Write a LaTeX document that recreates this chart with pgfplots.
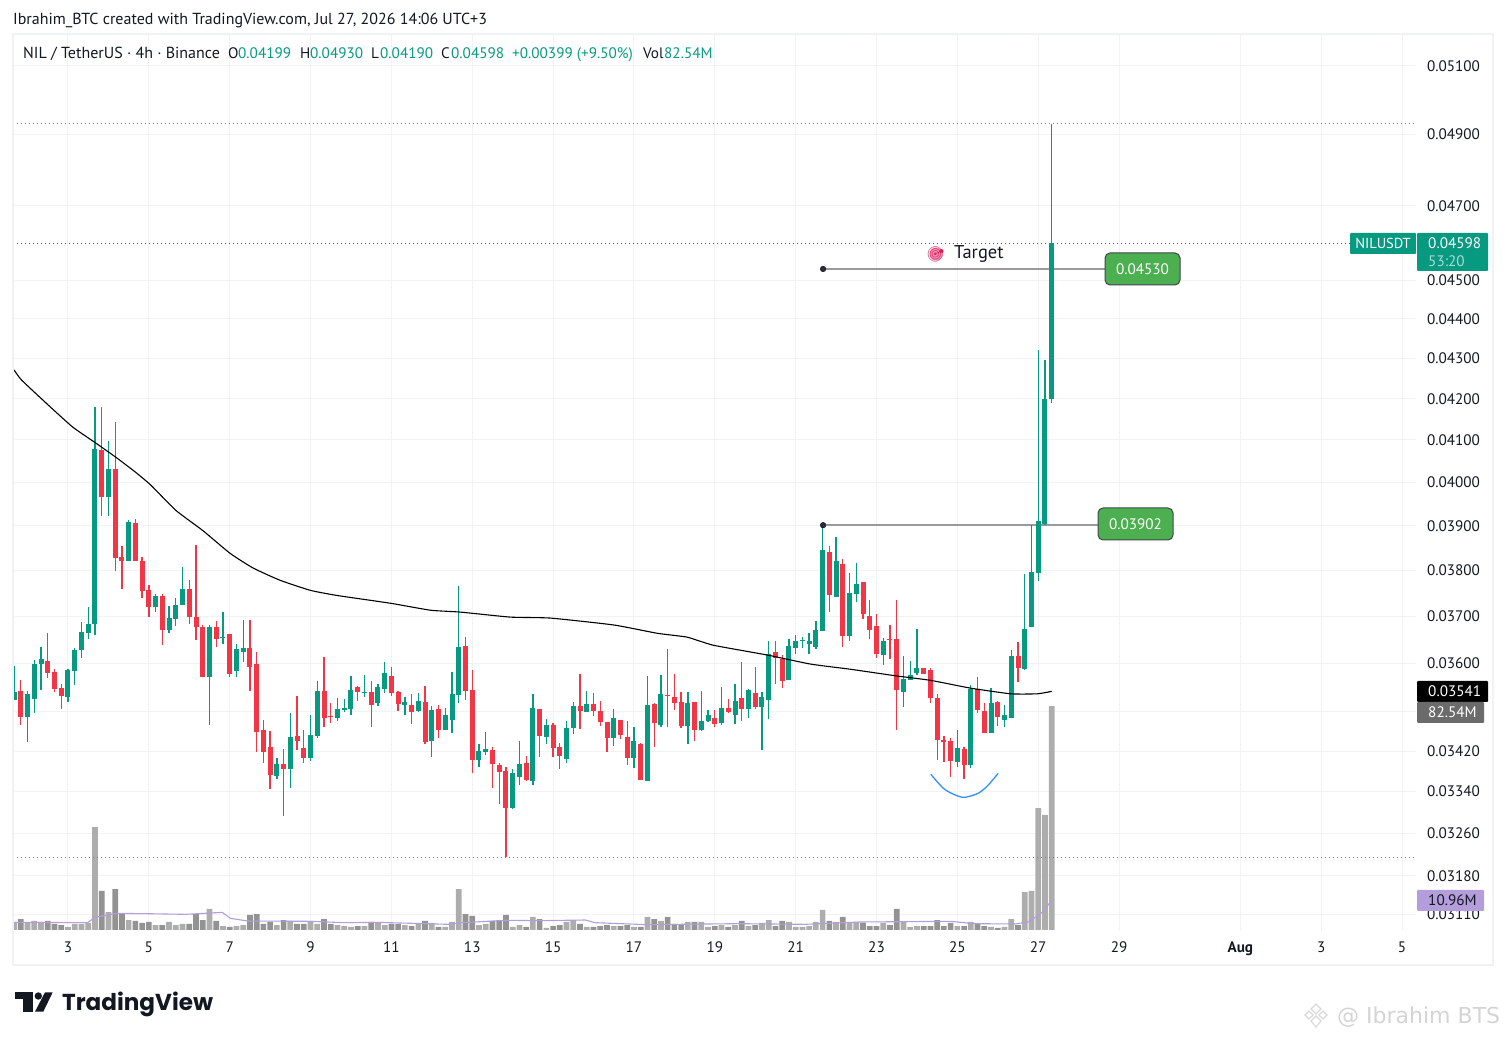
\documentclass[border=0pt]{standalone}
\usepackage{fontspec}
\usepackage{pgfplots}
\usepackage{pgfplotstable}
\pgfplotsset{compat=1.18}
\setmainfont{PT Sans}
\newfontfamily\emojifont{Noto Emoji}
\newfontfamily\tvfont{Poppins}
\newfontfamily\wmfont{DejaVu Sans}
\definecolor{tvgreen}{HTML}{089981}
\definecolor{tvred}{HTML}{F23645}
\definecolor{tvgrid}{HTML}{F1F2F4}
\definecolor{tvtext}{HTML}{131722}
\definecolor{tvdots}{HTML}{787B86}
\definecolor{volup}{HTML}{ADADAD}
\definecolor{voldown}{HTML}{939393}
\definecolor{volma}{HTML}{B39DDB}
\definecolor{lvl}{HTML}{9A9A9A}
\definecolor{lblgreen}{HTML}{4CAF50}
\pgfplotstableread{
i o h l c v
0 .03523 .03593 .03523 .03540 2.95
2 .03489 .03542 .03438 .03536 2.58
3 .03525 .03606 .03497 .03598 3.32
4 .03598 .03634 .03544 .03608 2.95
8 .03530 .03588 .03519 .03585 1.11
9 .03583 .03631 .03554 .03627 2.21
10 .03627 .03687 .03610 .03666 2.21
11 .03664 .03720 .03651 .03683 2.58
12 .03683 .04180 .03659 .04078 37.9
14 .03966 .04098 .03922 .04031 6.63
17 .03820 .03913 .03820 .03908 3.68
21 .03720 .03748 .03709 .03743 1.84
23 .03670 .03722 .03664 .03696 2.95
24 .03694 .03739 .03679 .03724 1.84
25 .03724 .03807 .03724 .03758 2.21
29 .03572 .03681 .03472 .03676 7.74
31 .03653 .03709 .03640 .03655 1.47
33 .03583 .03640 .03570 .03629 1.47
34 .03623 .03692 .03602 .03631 1.84
39 .03370 .03407 .03364 .03395 1.84
41 .03384 .03496 .03347 .03448 3.32
44 .03406 .03492 .03400 .03452 3.32
45 .03451 .03562 .03447 .03542 2.21
48 .03486 .03528 .03480 .03505 1.84
49 .03503 .03526 .03499 .03507 1.47
50 .03505 .03573 .03492 .03544 1.11
52 .03538 .03575 .03530 .03540 1.47
54 .03517 .03556 .03511 .03550 2.58
55 .03546 .03602 .03538 .03579 1.84
58 .03513 .03530 .03492 .03519 1.84
60 .03501 .03538 .03499 .03521 2.21
62 .03440 .03511 .03408 .03503 2.58
64 .03462 .03507 .03462 .03492 1.11
65 .03482 .03581 .03456 .03536 2.95
66 .03534 .03765 .03517 .03634 15.1
69 .03402 .03434 .03388 .03420 1.84
70 .03418 .03458 .03412 .03424 2.21
74 .03308 .03385 .03306 .03376 1.11
75 .03368 .03440 .03353 .03394 1.84
77 .03361 .03536 .03353 .03507 4.79
79 .03448 .03484 .03434 .03472 .74
82 .03404 .03480 .03396 .03466 2.95
83 .03466 .03519 .03454 .03511 3.68
85 .03499 .03542 .03499 .03515 1.11
89 .03446 .03505 .03430 .03487 1.47
92 .03406 .03468 .03387 .03440 1.11
94 .03361 .03573 .03361 .03513 4.79
96 .03472 .03575 .03468 .03536 3.32
100 .03470 .03540 .03434 .03517 2.95
102 .03462 .03542 .03460 .03480 2.95
103 .03480 .03503 .03478 .03493 1.11
105 .03476 .03550 .03472 .03507 1.84
107 .03493 .03556 .03474 .03521 1.84
109 .03505 .03546 .03487 .03544 1.47
111 .03509 .03540 .03422 .03529 2.58
112 .03523 .03646 .03484 .03619 3.68
115 .03565 .03651 .03565 .03636 2.95
116 .03632 .03659 .03619 .03646 1.11
117 .03646 .03655 .03632 .03649 1.11
118 .03640 .03664 .03619 .03646 1.47
119 .03634 .03689 .03630 .03670 2.95
120 .03668 .03904 .03668 .03845 7.37
122 .03741 .03875 .03741 .03821 2.95
124 .03657 .03794 .03647 .03750 2.58
125 .03748 .03816 .03731 .03770 2.95
129 .03617 .03653 .03596 .03647 2.58
132 .03540 .03615 .03509 .03567 2.95
133 .03564 .03604 .03564 .03575 1.11
134 .03580 .03672 .03575 .03590 1.47
140 .03398 .03462 .03389 .03426 1.47
142 .03392 .03554 .03386 .03546 2.95
145 .03456 .03548 .03456 .03517 1.11
147 .03483 .03513 .03469 .03493 1.11
148 .03487 .03628 .03487 .03615 4.05
150 .03588 .03792 .03586 .03672 14.0
151 .03676 .03902 .03676 .03796 14.4
152 .03794 .04320 .03776 .03911 44.9
153 .03905 .04297 .03902 .04199 42.4
154 .04199 .04930 .04190 .04598 82.54
}\upcandles
\pgfplotstableread{
i o h l c v
1 .03542 .03564 .03472 .03489 4.05
5 .03604 .03663 .03569 .03579 3.32
6 .03581 .03587 .03540 .03546 2.21
7 .03548 .03556 .03505 .03532 1.84
13 .04076 .04180 .03922 .03968 14.4
15 .04031 .04143 .03798 .03827 15.1
16 .03829 .03854 .03758 .03820 5.89
18 .03906 .03915 .03820 .03822 3.32
19 .03820 .03831 .03739 .03754 2.58
20 .03756 .03767 .03698 .03720 2.95
22 .03743 .03748 .03638 .03670 1.84
26 .03758 .03778 .03683 .03698 2.21
27 .03698 .03858 .03648 .03676 5.89
28 .03676 .03681 .03572 .03572 3.68
30 .03676 .03689 .03635 .03651 3.32
32 .03662 .03662 .03572 .03578 1.11
35 .03631 .03692 .03542 .03591 5.53
36 .03598 .03623 .03419 .03458 5.89
37 .03462 .03482 .03397 .03419 2.21
38 .03429 .03460 .03346 .03372 2.95
40 .03394 .03424 .03293 .03385 3.68
42 .03451 .03532 .03422 .03440 2.21
43 .03426 .03462 .03396 .03406 2.21
46 .03542 .03613 .03468 .03486 4.05
47 .03490 .03517 .03476 .03488 2.21
51 .03550 .03552 .03521 .03540 1.47
53 .03540 .03562 .03468 .03513 2.95
56 .03573 .03592 .03532 .03538 2.21
57 .03540 .03542 .03501 .03515 2.21
59 .03513 .03536 .03474 .03499 1.47
61 .03519 .03552 .03434 .03438 3.32
63 .03505 .03513 .03447 .03462 1.11
67 .03636 .03655 .03523 .03542 5.89
68 .03544 .03585 .03376 .03402 5.16
71 .03422 .03428 .03347 .03394 3.32
72 .03392 .03396 .03316 .03378 3.68
73 .03380 .03388 .03215 .03308 5.53
76 .03396 .03410 .03361 .03363 1.11
78 .03505 .03505 .03408 .03451 4.05
80 .03472 .03476 .03408 .03426 1.47
81 .03428 .03436 .03385 .03410 1.84
84 .03511 .03577 .03464 .03501 2.21
86 .03515 .03538 .03491 .03501 1.11
87 .03501 .03521 .03470 .03478 1.47
88 .03478 .03478 .03418 .03446 1.84
90 .03482 .03482 .03444 .03452 1.47
91 .03448 .03480 .03392 .03406 1.84
93 .03434 .03436 .03363 .03363 1.11
95 .03515 .03517 .03428 .03476 4.05
97 .03533 .03629 .03468 .03531 4.79
98 .03529 .03577 .03503 .03517 2.21
99 .03519 .03540 .03466 .03470 1.84
101 .03519 .03519 .03440 .03462 2.95
104 .03487 .03503 .03468 .03474 1.47
106 .03507 .03525 .03497 .03499 1.11
108 .03527 .03602 .03480 .03505 3.32
110 .03538 .03592 .03505 .03509 1.84
113 .03623 .03646 .03557 .03611 1.47
114 .03608 .03617 .03548 .03563 3.32
121 .03841 .03855 .03709 .03746 3.32
123 .03814 .03825 .03634 .03657 4.79
126 .03775 .03775 .03694 .03705 2.58
127 .03700 .03735 .03651 .03670 1.47
128 .03679 .03705 .03611 .03619 1.47
130 .03651 .03681 .03609 .03649 1.84
131 .03651 .03735 .03462 .03544 7.74
135 .03590 .03590 .03577 .03577 1.47
136 .03586 .03590 .03517 .03527 1.47
137 .03527 .03535 .03402 .03442 3.68
138 .03442 .03450 .03398 .03438 1.47
139 .03440 .03446 .03369 .03400 2.58
141 .03424 .03428 .03365 .03392 1.47
143 .03546 .03571 .03497 .03503 2.21
144 .03501 .03517 .03456 .03456 1.47
146 .03519 .03521 .03471 .03489 .74
149 .03615 .03645 .03560 .03590 1.84
}\downcandles
\pgfplotsset{
  paneaxis/.style={
    /pgfplots/scale only axis, /pgfplots/width=1402.5pt, /pgfplots/height=897pt,
    /pgfplots/xmin=-0.163, /pgfplots/xmax=208.0,
    /pgfplots/axis line style={draw=none},
    /pgfplots/major tick length=0pt,
  },
}
\newcommand\lbl{\fontsize{15.2}{17}\selectfont}
\begin{document}
\begin{tikzpicture}
\useasboundingbox (0,0) rectangle (1506pt,1040pt);
% pane with grid and scales
\begin{axis}[ymode=log, ymin=0.03079, ymax=0.05195, paneaxis,
  at={(13pt,109pt)}, anchor=south west,
  grid=major, grid style={tvgrid, line width=1pt},
  xtick={8,20,32,44,56,68,80,92,104,116,128,140,152,164,182,194,206},
  xticklabels={3,5,7,9,11,13,15,17,19,21,23,25,27,29,\textbf{Aug},3,5},
  xticklabel style={font=\lbl, text=tvtext, yshift=-7.5pt},
  ytick={0.0311,0.0318,0.0326,0.0334,0.0342,0.035,0.036,0.037,0.038,0.039,0.040,0.041,0.042,0.043,0.044,0.045,0.047,0.049,0.051},
  yticklabels={0.03110,0.03180,0.03260,0.03340,0.03420,,0.03600,0.03700,0.03800,0.03900,0.04000,0.04100,0.04200,0.04300,0.04400,0.04500,0.04700,0.04900,0.05100},
  yticklabel pos=right,
  yticklabel style={font=\lbl, text=tvtext, anchor=west, xshift=8pt},
]
\end{axis}
% volume pane
\begin{axis}[ymin=-0.3685, ymax=330.2, xtick=\empty, ytick=\empty, paneaxis, at={(13pt,109pt)}, anchor=south west]
\addplot[ybar, bar width=5.7pt, bar shift=0pt, fill=volup, draw=none] table[x=i,y=v] {\upcandles};
\addplot[ybar, bar width=5.7pt, bar shift=0pt, fill=voldown, draw=none] table[x=i,y=v] {\downcandles};
\addplot[volma, line width=1.1pt] coordinates {(0,2.82)(10.9,2.7)(12,4.67)(15.3,6.14)(19.9,6.0)(25.5,5.77)(30.9,6.5)(32.1,4.3)(34.7,3.3)(43.9,3.2)(49,2.7)(54.1,2.8)(64.4,2.09)(66.4,2.7)(73,3.56)(78,3.44)(84.8,3.68)(86.2,2.7)(94,1.96)(107.3,2.33)(117.4,2.09)(125.6,2.95)(139,3.2)(142.5,2.33)(148.6,2.21)(150.7,3.07)(152.7,6.75)(154,10.96)};
\end{axis}
% price series
\begin{axis}[ymode=log, ymin=0.03079, ymax=0.05195, xtick=\empty, ytick=\empty, paneaxis, at={(13pt,109pt)}, anchor=south west]
% high, low and last-price lines
\addplot[tvdots, line width=0.9pt, dash pattern=on 1pt off 3pt] coordinates {(-0.163,0.0493)(208,0.0493)};
\addplot[tvdots, line width=0.9pt, dash pattern=on 1pt off 3pt] coordinates {(-0.163,0.03215)(208,0.03215)};
\addplot[tvgreen!70!black, line width=0.9pt, dash pattern=on 1pt off 3pt] coordinates {(-0.163,0.04598)(198.3,0.04598)};
% level lines
\addplot[lvl, line width=1.9pt] coordinates {(120.07,0.0453)(161.9,0.0453)};
\addplot[lvl, line width=1.9pt] coordinates {(120.07,0.03902)(160.9,0.03902)};
\addplot[only marks, mark=*, mark size=2.8pt, mark options={fill=tvtext!90, draw=none}] coordinates {(120.07,0.0453)(120.07,0.03902)};
% wicks
\addplot[draw=none, mark=none, error bars/.cd, y dir=plus, y explicit, error mark=none, error bar style={tvgreen, line width=1.3pt}]
  table[x=i, y=l, y error plus expr=\thisrow{h}-\thisrow{l}] {\upcandles};
\addplot[draw=none, mark=none, error bars/.cd, y dir=plus, y explicit, error mark=none, error bar style={tvred, line width=1.3pt}]
  table[x=i, y=l, y error plus expr=\thisrow{h}-\thisrow{l}] {\downcandles};
% bodies
\addplot[draw=none, mark=none, error bars/.cd, y dir=plus, y explicit, error mark=none, error bar style={tvgreen, line width=5pt}]
  table[x=i, y=o, y error plus expr=\thisrow{c}-\thisrow{o}] {\upcandles};
\addplot[draw=none, mark=none, error bars/.cd, y dir=plus, y explicit, error mark=none, error bar style={tvred, line width=5pt}]
  table[x=i, y=c, y error plus expr=\thisrow{o}-\thisrow{c}] {\downcandles};
% moving average
\addplot[black, line width=1.1pt, smooth, tension=0.3] coordinates {(0,.04271)(1.1,.04246)(5.1,.04184)(8.7,.04131)(12.1,.04093)(15.1,.04059)(18,.04024)(20.3,.03994)(24,.03936)(28,.03890)(32.1,.03838)(35.5,.03805)(39.5,.03778)(44,.03756)(48,.03745)(55.9,.03728)(61.8,.03713)(66.2,.03709)(73.7,.03698)(79.6,.03696)(89,.03681)(95.5,.03663)(99.9,.03655)(103.8,.03638)(111.8,.03617)(118.2,.03598)(124.1,.03587)(131,.03573)(136,.03564)(141.9,.03548)(147.9,.03536)(151.9,.03536)(154,.03541)};
% hand-drawn arc
\addplot[blue!55!cyan!80!white, line width=1.3pt, smooth] coordinates {(136.05,.03374)(137.9,.03347)(139.4,.03335)(141,.03329)(143.1,.03337)(144.6,.03353)(146.05,.03376)};
\end{axis}
\begin{scope}[x=1pt, y=-1pt, yshift=1040pt]
% frame
\draw[tvgrid, line width=1.6pt] (13,34) rectangle (1493,965);
% header
\node[anchor=base west, inner sep=0, text=tvtext, font=\fontsize{16}{18}\selectfont] at (13,25) {Ibrahim\_BTC created with TradingView.com, Jul 27, 2026 14:06 UTC+3};
\begin{scope}[every node/.style={anchor=base west, inner sep=0, font=\lbl}]
\node[text=tvtext, font=\fontsize{16}{18}\selectfont] at (23,59) {NIL / TetherUS · 4h · Binance};
\node[text=tvtext] at (228,59) {O}; \node[text=tvgreen] at (238,59) {0.04199};
\node[text=tvtext] at (300,59) {H}; \node[text=tvgreen] at (310,59) {0.04930};
\node[text=tvtext] at (371,59) {L}; \node[text=tvgreen] at (380,59) {0.04190};
\node[text=tvtext] at (441,59) {C}; \node[text=tvgreen] at (451,59) {0.04598};
\node[text=tvgreen] at (512,59) {+0.00399 (+9.50\%)};
\node[text=tvtext] at (643,59) {Vol}; \node[text=tvgreen] at (664,59) {82.54M};
\end{scope}
% target annotation
\fill[tvred!75!magenta!55!white] (936,254) circle (6.5);
\node[anchor=center, inner sep=0, text=tvred!80!magenta!85!black, font=\emojifont\fontsize{15}{16}\selectfont] at (936,254) {🎯};
\node[anchor=base west, inner sep=0, text=tvtext, font=\fontsize{18.5}{20}\selectfont] at (954,259) {Target};
% level labels
\draw[fill=lblgreen, draw=tvtext!80, line width=1pt, rounded corners=5pt] (1105,253) rectangle (1180,285);
\node[text=white, font=\lbl] at (1142.5,269) {0.04530};
\draw[fill=lblgreen, draw=tvtext!80, line width=1pt, rounded corners=5pt] (1098,508) rectangle (1173,540);
\node[text=white, font=\lbl] at (1135.5,524) {0.03902};
% price scale labels
\fill[tvgreen, rounded corners=1pt] (1350,233) rectangle (1416,254);
\node[text=white, font=\fontsize{14.5}{16}\selectfont] at (1383,243.5) {NILUSDT};
\fill[tvgreen, rounded corners=1pt] (1417,233) rectangle (1488,271);
\node[anchor=west, inner sep=0, text=white, font=\lbl] at (1428,243.5) {0.04598};
\node[anchor=west, inner sep=0, text=white!65!tvgreen, font=\lbl] at (1428,261) {53:20};
\fill[black, rounded corners=1pt] (1417,681) rectangle (1488,702);
\node[anchor=west, inner sep=0, text=white, font=\lbl] at (1428,691.5) {0.03541};
\fill[black!58, rounded corners=1pt] (1417,702) rectangle (1484,723);
\node[anchor=west, inner sep=0, text=white, font=\lbl] at (1428,712.5) {82.54M};
\fill[volma, rounded corners=1pt] (1417,890) rectangle (1484,911);
\node[anchor=west, inner sep=0, text=tvtext, font=\lbl] at (1428,900) {10.96M};
% TradingView mark
\fill[tvtext] (15.3,992.3) rectangle (33.3,999.3);
\fill[tvtext] (22.7,999.3) rectangle (33.3,1011.7);
\fill[tvtext] (38.3,996) circle (3.7);
\fill[tvtext] (52.7,992.3) -- (45,992.3) -- (35,1011.7) -- (43.3,1011.7) -- cycle;
\node[anchor=west, inner sep=0, text=tvtext, font=\tvfont\fontsize{23.1}{26}\selectfont\bfseries] at (62,1004.5) {TradingView};
% watermark
\begin{scope}[draw=black!15, line width=1.2pt]
\draw (1316,1004) -- (1321,1009) -- (1316,1014) -- (1311,1009) -- cycle;
\draw (1305,1015) -- (1309,1011) -- (1313,1015) -- (1309,1019) -- cycle;
\draw (1319,1015) -- (1323,1011) -- (1327,1015) -- (1323,1019) -- cycle;
\draw (1316,1016) -- (1321,1021) -- (1316,1027) -- (1311,1021) -- cycle;
\end{scope}
\node[anchor=west, inner sep=0, text=black!17, font=\wmfont\fontsize{22}{25}\selectfont] at (1337,1017) {@ Ibrahim BTS};
\end{scope}
\end{tikzpicture}
\end{document}
